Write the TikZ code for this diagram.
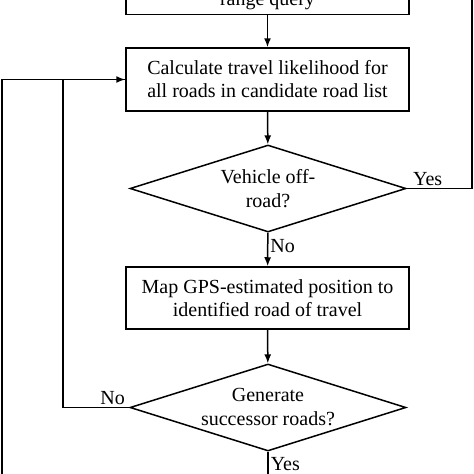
\documentclass[tikz,border=0pt]{standalone}
\usepackage{fontspec}
\setmainfont{Liberation Serif}
\usetikzlibrary{shapes.geometric, arrows.meta}
\begin{document}
\begin{tikzpicture}[x=1pt, y=-1pt, line width=1.5pt, >={Latex[length=9pt, width=7pt]},
    procbox/.style={draw, minimum width=283pt, minimum height=63pt, align=center, font=\fontsize{20}{23}\selectfont},
    decide/.style={draw, diamond, aspect=3.17, minimum width=276pt, minimum height=87pt, inner sep=0pt, align=center, font=\fontsize{20}{24}\selectfont},
    lbl/.style={font=\fontsize{20}{23}\selectfont, inner sep=2pt}]
    \useasboundingbox (0,0) rectangle (474,474);

    % boxes and decisions
    \node[procbox, minimum height=0pt, anchor=south, inner sep=4pt] (query) at (267.5, 15) {\mbox{}\\range query};
    \node[procbox] (calc) at (267.5, 79.5) {Calculate travel likelihood for\\all roads in candidate road list};
    \node[decide] (offroad) at (268, 188.5) {Vehicle off-\\road?};
    \node[procbox, minimum height=62pt] (map) at (267.5, 298) {Map GPS-estimated position to\\identified road of travel};
    \node[decide] (succ) at (268, 407.5) {Generate\\successor roads?};

    % free ends
    \coordinate (yesTop) at (472, -10);
    \coordinate (leftTurn) at (63, 0);
    \coordinate (outerBot) at (2, 480);
    \coordinate (succBot) at (268, 480);

    % connectors
    \draw[->] (query) -- (calc);
    \draw[->] (calc) -- (offroad);
    \draw[->] (offroad) -- node[lbl, right, pos=0.4] {No} (map);
    \draw[->] (map) -- (succ);
    \draw (offroad.east) -| node[lbl, above, pos=0.16] {Yes} (yesTop);
    \draw[->] (succ.west) -- node[lbl, above, pos=0.25] {No} (succ.west -| leftTurn) |- (calc.west);
    \draw (outerBot) |- (calc.west);
    \draw (succ.south) -- node[lbl, right, pos=0.45] {Yes} (succBot);
\end{tikzpicture}
\end{document}
